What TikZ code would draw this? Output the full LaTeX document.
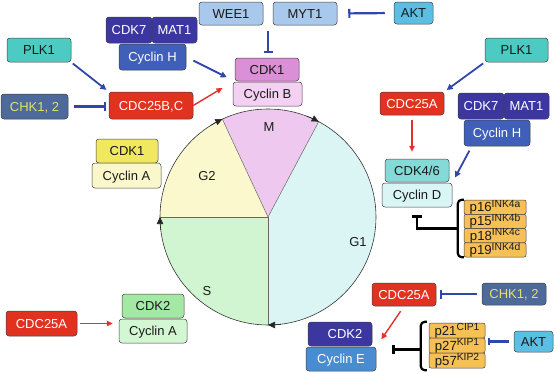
\documentclass[tikz,border=0pt]{standalone}
\usepackage{fontspec}
\setmainfont{Liberation Sans}
\usetikzlibrary{arrows.meta,calc}
\definecolor{cwee}{HTML}{A9C9EC}
\definecolor{cakt}{HTML}{5BBFE3}
\definecolor{cind}{HTML}{3B36A0}
\definecolor{ccyh}{HTML}{3F5FB8}
\definecolor{cplk}{HTML}{4CCBC3}
\definecolor{cchk}{HTML}{4D6A9B}
\definecolor{cchkt}{HTML}{E3E070}
\definecolor{cred}{HTML}{E1311F}
\definecolor{ccdkp}{HTML}{DA8FD6}
\definecolor{ccycb}{HTML}{F4D0F3}
\definecolor{ccdky}{HTML}{F0E85E}
\definecolor{ccycy}{HTML}{FAF8CB}
\definecolor{ccdkd}{HTML}{84DAD6}
\definecolor{ccycd}{HTML}{DAF5F5}
\definecolor{cink}{HTML}{F5C157}
\definecolor{ccdkg}{HTML}{A3E8A3}
\definecolor{ccycg}{HTML}{D3F6D3}
\definecolor{ccye}{HTML}{4A8CD2}
\definecolor{lblue}{HTML}{2F47A8}
\definecolor{lred}{HTML}{E8302A}
\definecolor{ctxt}{HTML}{1A1A1A}
\definecolor{phM}{HTML}{EFC8F0}
\definecolor{phG}{HTML}{FAF8CC}
\definecolor{phS}{HTML}{D0F5D0}
\definecolor{phA}{HTML}{DBF5F5}
\newcommand{\mkbox}[8]{\node[cbox, fill=#6, text=#7, minimum width={(#4-#2)*1pt}, minimum height={(#5-#3)*1pt}] (#1) at ({(#2+#4)/2},{(#3+#5)/2}) {#8};}
\newcommand{\mkink}[6]{\node[inkbox, minimum width={(#4-#2)*1pt}, minimum height={(#5-#3)*1pt}] (#1) at ({(#2+#4)/2},{(#3+#5)/2}) {#6};}
\newcommand{\supx}[1]{{\fontsize{10.3}{10.3}\selectfont\raisebox{4.3pt}{#1}}}
\begin{document}
\begin{tikzpicture}[x=1pt,y=-1pt,
  cbox/.style={draw=black!75, line width=0.5pt, rounded corners=3pt, inner sep=0pt,
     font=\fontsize{13}{15}\selectfont, text height=9.3pt, text depth=0pt},
  inkbox/.style={draw=black!75, line width=0.5pt, rounded corners=2pt, inner sep=0pt, fill=cink, text=ctxt,
     font=\fontsize{13.2}{13.2}\selectfont, text height=9pt, text depth=0pt},
  actb/.style={draw=lblue, line width=1.8pt, -{Triangle[length=6pt,width=6pt]}},
  actr/.style={draw=lred, line width=1.4pt, -{Triangle[length=6pt,width=5.5pt]}},
  inhb/.style={draw=lblue, line width=2.2pt, -{Bar[width=9pt]}},
  inhk/.style={draw=black, line width=2.8pt, -{Bar[width=10pt]}},
  brk/.style={draw=black, line width=2.2pt, rounded corners=4pt},
  phase/.style={font=\fontsize{13}{15}\selectfont, text=ctxt},
  tipc/.style={draw=black!85, line width=0.6pt, -{Triangle[length=7pt,width=6.5pt]}}
]
\useasboundingbox (0,0) rectangle (555,372);

% cell cycle circle
\begin{scope}[shift={(268,217)}, y=1pt]
  \fill[phM] (0,0) -- (62:108) arc[start angle=62, end angle=115, radius=108] -- cycle;
  \fill[phG] (0,0) -- (115:108) arc[start angle=115, end angle=180, radius=108] -- cycle;
  \fill[phS] (0,0) -- (180:108) arc[start angle=180, end angle=270, radius=108] -- cycle;
  \fill[phA] (0,0) -- (270:108) arc[start angle=270, end angle=422, radius=108] -- cycle;
  \draw[black!60, line width=0.5pt] (62:108) -- (0,0) -- (115:108);
  \draw[black!60, line width=0.5pt] (180:108) -- (0,0) -- (270:108);
  \draw[black!80, line width=0.6pt] (0,0) circle[radius=108];
  \draw[tipc] (69:108) arc[start angle=69, end angle=62, radius=108];
  \draw[tipc] (122:108) arc[start angle=122, end angle=115, radius=108];
  \draw[tipc] (187:108) arc[start angle=187, end angle=180, radius=108];
  \draw[tipc] (277:108) arc[start angle=277, end angle=270, radius=108];
\end{scope}
\node[phase] (lM) at (269,127) {M};
\node[phase] (lG2) at (207,176) {G2};
\node[phase] (lG1) at (358,242) {G1};
\node[phase] (lS) at (207,291) {S};

% boxes
\mkbox{wee1}{199}{2}{263}{25}{cwee}{ctxt}{WEE1}
\mkbox{myt1}{273}{2}{337}{25}{cwee}{ctxt}{MYT1}
\mkbox{aktt}{394}{2}{433}{24}{cakt}{ctxt}{AKT}
\mkbox{cdk7l}{106}{17}{152}{43}{cind}{white}{CDK7}
\mkbox{mat1l}{152}{17}{197}{43}{cind}{white}{MAT1}
\mkbox{cyclinhl}{119}{44}{186}{70}{ccyh}{white}{Cyclin H}
\mkbox{plk1l}{7}{38}{71}{62}{cplk}{ctxt}{PLK1}
\mkbox{chkl}{1}{94}{68}{119}{cchk}{cchkt}{CHK1, 2}
\mkbox{cdc25bc}{109}{92}{193}{119}{cred}{white}{CDC25B,C}
\mkbox{cdk1t}{235}{58}{299}{81}{ccdkp}{ctxt}{CDK1}
\mkbox{cyclinb}{233}{82}{302}{106}{ccycb}{ctxt}{Cyclin B}
\mkbox{plk1r}{485}{38}{548}{62}{cplk}{ctxt}{PLK1}
\mkbox{cdc25ar}{380}{92}{444}{115}{cred}{white}{CDC25A}
\mkbox{cdk7r}{458}{93}{504}{119}{cind}{white}{CDK7}
\mkbox{mat1r}{504}{93}{549}{119}{cind}{white}{MAT1}
\mkbox{cyclinhr}{464}{120}{530}{146}{ccyh}{white}{Cyclin H}
\mkbox{cdk46}{385}{159}{449}{182}{ccdkd}{ctxt}{CDK4/6}
\mkbox{cyclind}{382}{183}{452}{207}{ccycd}{ctxt}{Cyclin D}
\mkink{p16}{464}{200}{526}{214.25}{p16\supx{INK4a}}
\mkink{p15}{464}{214.25}{526}{228.5}{p15\supx{INK4b}}
\mkink{p18}{464}{228.5}{526}{242.75}{p18\supx{INK4c}}
\mkink{p19}{464}{242.75}{526}{257}{p19\supx{INK4d}}
\mkbox{cdk1y}{96}{139}{158}{163}{ccdky}{ctxt}{CDK1}
\mkbox{cycay}{92}{163}{161}{188}{ccycy}{ctxt}{Cyclin A}
\mkbox{cdk2g}{122}{294}{184}{318}{ccdkg}{ctxt}{CDK2}
\mkbox{cycag}{119}{319}{187}{343}{ccycg}{ctxt}{Cyclin A}
\mkbox{cdc25al}{6}{311}{77}{336}{cred}{white}{CDC25A}
\mkbox{cdc25abr}{372}{283}{436}{306}{cred}{white}{CDC25A}
\mkbox{chkr}{482}{283}{546}{305}{cchk}{cchkt}{CHK1, 2}
\mkbox{cdk2b}{308}{322}{372}{346}{cind}{white}{\hspace*{10pt}CDK2}
\mkbox{cycle}{306}{347}{376}{371}{ccye}{white}{Cyclin E}
\mkink{p21}{429}{323}{485}{338}{p21\supx{CIP1}}
\mkink{p27}{429}{338}{485}{353}{p27\supx{KIP1}}
\mkink{p57}{429}{353}{485}{368}{p57\supx{KIP2}}
\mkbox{aktbr}{514}{331}{553}{352}{cakt}{ctxt}{AKT}

% connectors
\draw[inhb, shorten <=9pt, shorten >=11pt] (aktt.west) -- (myt1.east);
\coordinate (wm) at ($(wee1.south east)!0.5!(myt1.south west)$);
\draw[inhb, shorten <=6pt, shorten >=5pt] (wm) -- (wm |- cdk1t.north);
\draw[inhb, shorten <=6pt, shorten >=3pt] (chkl.east) -- (chkl.east -| cdc25bc.west);
\draw[actb, shorten <=2pt, shorten >=3pt] (plk1l.south east) -- (cdc25bc.north west);
\draw[actb, shorten <=8pt, shorten >=9pt] (cyclinhl.east) -- (cdk1t.south west);
\draw[actr, shorten >=12pt] (cdc25bc.east) -- (cyclinb.north west);
\draw[actb, shorten <=2pt, shorten >=3pt] (plk1r.south west) -- (cdc25ar.north east);
\draw[actr, shorten <=5pt, shorten >=7pt] (cdc25ar.south) -- (cdc25ar.south |- cdk46.north);
\draw[actb, shorten <=5pt, shorten >=6pt] ($(cyclinhr.south west)+(8,0)$) -- (cyclind.north east);
\draw[brk] ($(p16.north west)+(0,0)$) -- ++(-6,0) -- ($(p19.south west)+(-6,0)$) -- (p19.south west);
\coordinate (inkb) at ($(p16.north west)!0.5!(p19.south west)+(-6,0)$);
\draw[inhk, shorten >=8pt] (inkb) -| (cyclind.south);
\draw[actr, shorten <=3pt, shorten >=6pt] (cdc25al.east) -- (cdc25al.east -| cycag.west);
\draw[inhb, shorten <=5pt, shorten >=4pt] (chkr.west) -- (chkr.west -| cdc25abr.east);
\draw[actr, shorten <=6pt, shorten >=9pt] (cdc25abr.south) -- (cycle.north east);
\draw[brk] ($(p21.north west)+(-2,-1)$) -- ++(-6,0) -- ($(p57.south west)+(-8,2)$) -- ++(6,0);
\coordinate (kipb) at ($(p21.north west)!0.5!(p57.south west)+(-8,4)$);
\draw[inhk, line width=2.6pt, -{Bar[width=9pt]}, shorten >=16pt] (kipb) -- (kipb -| cycle.east);
\draw[inhb, -{Bar[width=7pt]}, shorten <=5pt, shorten >=3pt] (aktbr.west) -- (aktbr.west -| p27.east);
\end{tikzpicture}
\end{document}
